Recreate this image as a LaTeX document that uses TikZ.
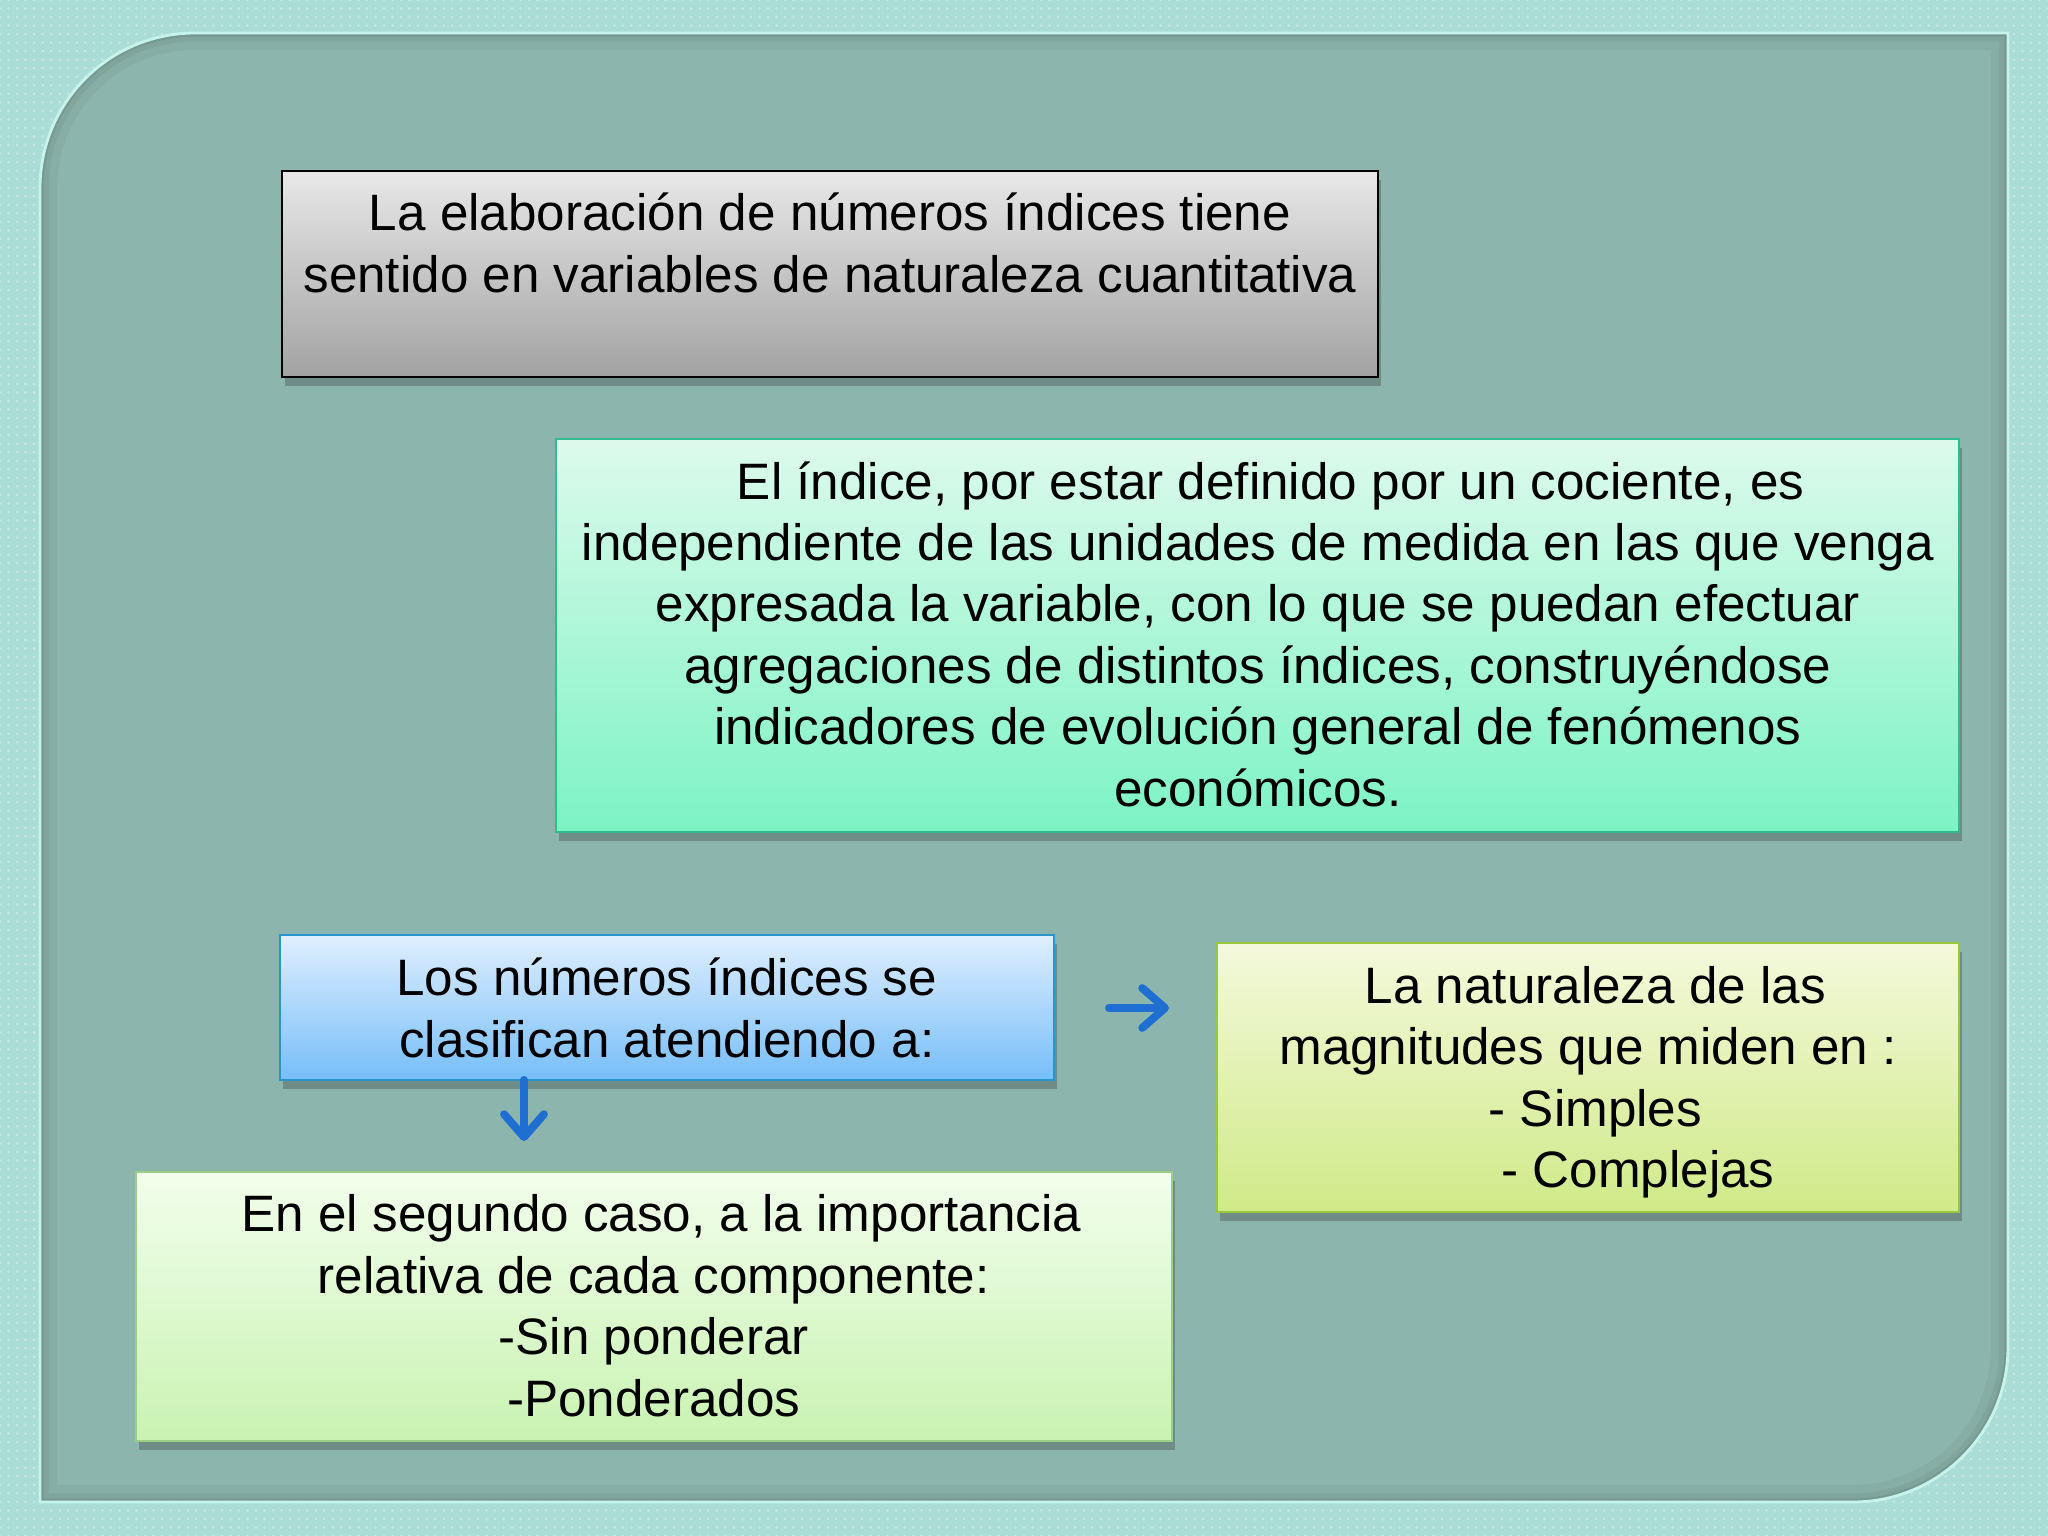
\documentclass[tikz,border=0pt]{standalone}
\usepackage{fontspec}
\setmainfont{Liberation Sans}
\usetikzlibrary{fit,shadows,arrows.meta,patterns}
\definecolor{outerbg}{HTML}{A9DDD6}
\definecolor{panelc}{HTML}{8BB5AD}
\definecolor{panelhl}{HTML}{C6F3EB}
\definecolor{grayT}{HTML}{E8E8E8}
\definecolor{grayM}{HTML}{D2D2D2}
\definecolor{grayB}{HTML}{A2A2A2}
\definecolor{mintT}{HTML}{DDFAEC}
\definecolor{mintB}{HTML}{7CF3C4}
\definecolor{mintD}{HTML}{2FBC8E}
\definecolor{blueT}{HTML}{E0EFFF}
\definecolor{blueB}{HTML}{76BEF8}
\definecolor{blueD}{HTML}{2A95CC}
\definecolor{limeT}{HTML}{F4F9DC}
\definecolor{limeB}{HTML}{D0EA88}
\definecolor{limeD}{HTML}{98C83C}
\definecolor{leafT}{HTML}{F2FEEC}
\definecolor{leafB}{HTML}{C9F3B2}
\definecolor{leafD}{HTML}{9CCF86}
\definecolor{arrowblue}{HTML}{1F6FD2}
\tikzset{
  boxbase/.style={inner sep=0pt, shading=axis, line width=0.8pt,
    drop shadow={shadow xshift=1pt, shadow yshift=-3pt, opacity=0.35, fill=black!75}},
  graybox/.style={boxbase, draw=black, top color=grayT, middle color=grayM, bottom color=grayB},
  mintbox/.style={boxbase, draw=mintD, top color=mintT, bottom color=mintB},
  bluebox/.style={boxbase, draw=blueD, top color=blueT, bottom color=blueB},
  limebox/.style={boxbase, draw=limeD, top color=limeT, bottom color=limeB},
  leafbox/.style={boxbase, draw=leafD, top color=leafT, bottom color=leafB},
  txt/.style={inner sep=0pt, align=center, font=\fontsize{18}{21.6}\selectfont, text=black},
  arrowline/.style={draw=arrowblue, line width=2.8pt, line cap=round,
    -{Straight Barb[length=8pt,width=14pt,round]}}
}
\begin{document}
\begin{tikzpicture}[x=0.3515625pt,y=-0.3515625pt]
\useasboundingbox (0,0) rectangle (2048,1536);
% outer background
\fill[outerbg] (0,0) rectangle (2048,1536);
\fill[pattern=dots, pattern color=white, opacity=0.35] (0,0) rectangle (2048,1536);
% panel
\def\panelpath{(40,1502) -- (40,188) .. controls (40,102.4) and (109.4,33) .. (195,33) -- (2008,33) -- (2008,1347) .. controls (2008,1432.6) and (1938.6,1502) .. (1853,1502) -- cycle}
\fill[panelc] \panelpath;
\begin{scope}
  \clip \panelpath;
  \draw[black, opacity=0.035, line width=12pt] \panelpath;
  \draw[black, opacity=0.05, line width=6pt] \panelpath;
  \draw[black, opacity=0.07, line width=2.5pt] \panelpath;
\end{scope}
\draw[panelhl, line width=1pt] \panelpath;

% boxes
\node[graybox, fit={(282,171) (1378,377)}] (b1) {};
\node[mintbox, fit={(556,439) (1959,832)}] (b2) {};
\node[bluebox, fit={(280,935) (1054,1080)}] (b3) {};
\node[limebox, fit={(1217,943) (1959,1212)}] (b4) {};
\node[leafbox, fit={(136,1172) (1172,1441)}] (b5) {};

% texts
\node[txt] (t1) at (830,249.3) {\strut La elaboración de números índices tiene\\
\strut sentido en variables de naturaleza cuantitativa};
\node[txt] (t2) at (1257.8,640.4) {\strut\hspace*{9pt}El índice, por estar definido por un cociente, es\\
\strut independiente de las unidades de medida en las que venga\\
\strut expresada la variable, con lo que se puedan efectuar\\
\strut agregaciones de distintos índices, construyéndose\\
\strut indicadores de evolución general de fenómenos\\
\strut económicos.};
\node[txt] (t3) at (666.8,1014) {\strut Los números índices se\\
\strut clasifican atendiendo a:};
\node[txt] (t4) at (1588.2,1083.2) {\strut\hspace*{5pt}La naturaleza de las\\
\strut magnitudes que miden en :\\
\strut\hspace*{5pt}- Simples\\
\strut\hspace*{35pt}- Complejas};
\node[txt] (t5) at (653.7,1311.8) {\strut\hspace*{5.5pt}En el segundo caso, a la importancia\\
\strut relativa de cada componente:\\
\strut -Sin ponderar\\
\strut -Ponderados};

% arrows
\coordinate (dtop) at (524,1080);
\coordinate (dtip) at (524,1141);
\coordinate (rstart) at (1109,1008);
\coordinate (rtip) at (1169,1008);
\draw[arrowline] (dtop) -- (dtip);
\draw[arrowline] (rstart) -- (rtip);
\end{tikzpicture}
\end{document}
